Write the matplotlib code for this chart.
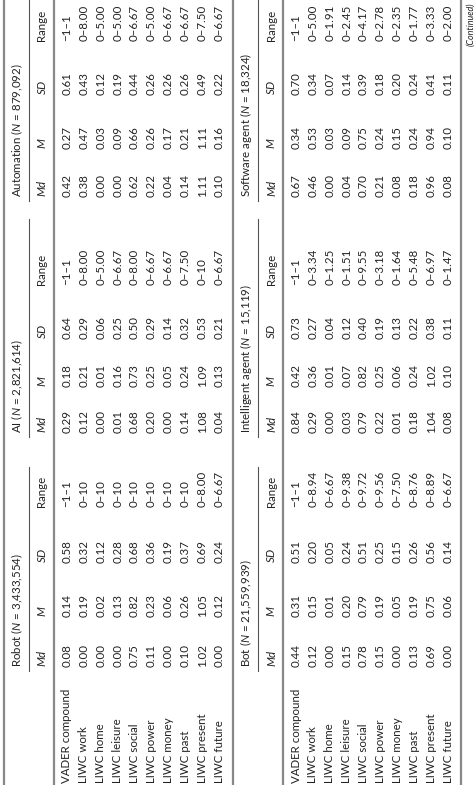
import matplotlib
matplotlib.use("Agg")
import matplotlib.pyplot as plt
from matplotlib.lines import Line2D

plt.rcParams['font.family'] = ['Lato', 'DejaVu Sans']
plt.rcParams['mathtext.fontset'] = 'custom'
plt.rcParams['mathtext.it'] = 'Lato:italic'
plt.rcParams['mathtext.rm'] = 'Lato'

rows = ["VADER compound", "LIWC work", "LIWC home", "LIWC leisure", "LIWC social",
        "LIWC power", "LIWC money", "LIWC past", "LIWC present", "LIWC future"]
sub = ["Md", "M", "SD", "Range"]

block1_groups = ["Robot ($N$ = 3,433,554)", "AI ($N$ = 2,821,614)", "Automation ($N$ = 879,092)"]
robot_md = ["0.08","0.00","0.00","0.00","0.75","0.11","0.00","0.10","1.02","0.00"]
robot_m = ["0.14","0.19","0.02","0.13","0.82","0.23","0.06","0.26","1.05","0.12"]
robot_sd = ["0.58","0.32","0.12","0.28","0.68","0.36","0.19","0.37","0.69","0.24"]
robot_rg = ["−1–1","0–10","0–10","0–10","0–10","0–10","0–10","0–10","0–8.00","0–6.67"]
ai_md = ["0.29","0.12","0.00","0.01","0.68","0.20","0.00","0.14","1.08","0.04"]
ai_m = ["0.18","0.21","0.01","0.16","0.73","0.25","0.05","0.24","1.09","0.13"]
ai_sd = ["0.64","0.29","0.06","0.25","0.50","0.29","0.14","0.32","0.53","0.21"]
ai_rg = ["−1–1","0–8.00","0–5.00","0–6.67","0–8.00","0–6.67","0–6.67","0–7.50","0–10","0–6.67"]
au_md = ["0.42","0.38","0.00","0.00","0.62","0.22","0.04","0.14","1.11","0.10"]
au_m = ["0.27","0.47","0.03","0.09","0.66","0.26","0.17","0.21","1.11","0.16"]
au_sd = ["0.61","0.43","0.12","0.19","0.44","0.26","0.26","0.26","0.49","0.22"]
au_rg = ["−1–1","0–8.00","0–5.00","0–5.00","0–6.67","0–5.00","0–6.67","0–6.67","0–7.50","0–6.67"]

block2_groups = ["Bot ($N$ = 21,559,939)", "Intelligent agent ($N$ = 15,119)", "Software agent ($N$ = 18,324)"]
bot_md = ["0.44","0.12","0.00","0.15","0.78","0.15","0.00","0.13","0.69","0.00"]
bot_m = ["0.31","0.15","0.01","0.20","0.79","0.19","0.05","0.19","0.75","0.06"]
bot_sd = ["0.51","0.20","0.05","0.24","0.51","0.25","0.15","0.26","0.56","0.14"]
bot_rg = ["−1–1","0–8.94","0–6.67","0–9.38","0–9.72","0–9.56","0–7.50","0–8.76","0–8.89","0–6.67"]
ia_md = ["0.84","0.29","0.00","0.03","0.79","0.22","0.01","0.18","1.04","0.08"]
ia_m = ["0.42","0.36","0.01","0.07","0.82","0.25","0.06","0.24","1.02","0.10"]
ia_sd = ["0.73","0.27","0.04","0.12","0.40","0.19","0.13","0.22","0.38","0.11"]
ia_rg = ["−1–1","0–3.34","0–1.25","0–1.51","0–9.55","0–3.18","0–1.64","0–5.48","0–6.97","0–1.47"]
sa_md = ["0.67","0.46","0.00","0.04","0.70","0.21","0.08","0.18","0.96","0.08"]
sa_m = ["0.34","0.53","0.03","0.09","0.75","0.24","0.15","0.24","0.94","0.10"]
sa_sd = ["0.70","0.34","0.07","0.14","0.39","0.18","0.20","0.24","0.41","0.11"]
sa_rg = ["−1–1","0–5.00","0–1.91","0–2.45","0–4.17","0–2.78","0–2.35","0–1.77","0–3.33","0–2.00"]

block1 = [[robot_md, robot_m, robot_sd, robot_rg], [ai_md, ai_m, ai_sd, ai_rg], [au_md, au_m, au_sd, au_rg]]
block2 = [[bot_md, bot_m, bot_sd, bot_rg], [ia_md, ia_m, ia_sd, ia_rg], [sa_md, sa_m, sa_sd, sa_rg]]

W, H = 474, 785
fig = plt.figure(figsize=(W/100, H/100), dpi=100)

col_u = [[118, 168, 222, 278], [352, 398, 446, 500], [588, 636, 690, 744]]
grp_span = [(114, 318), (348, 566), (584, 785)]
FS = 8.3
C = '#222222'

def txt(u, v, s, **kw):
    fig.text(v / W, u / H, s, rotation=90, rotation_mode='anchor', ha='left', va='center',
             fontsize=FS, color=C, **kw)

def hline(v, u0, u1, lw=1.0, col='#888888'):
    fig.add_artist(Line2D([v / W, v / W], [u0 / H, u1 / H], lw=lw, color=col))

def draw_block(v0, groups, data):
    hline(v0, 0, H, lw=1.6)
    for g, name in enumerate(groups):
        txt(col_u[g][0], v0 + 13, name)
        hline(v0 + 25, grp_span[g][0], grp_span[g][1], lw=0.8, col='#555555')
        for k, s in enumerate(sub):
            txt(col_u[g][k], v0 + 38, s if s == "Range" else "$" + s + "$")
    hline(v0 + 50, 0, H, lw=1.6)
    for i, r in enumerate(rows):
        v = v0 + 63 + i * 16.9
        txt(2, v, r)
        for g in range(3):
            for k in range(4):
                txt(col_u[g][k], v, data[g][k][i])

draw_block(4, block1_groups, block1)
draw_block(233, block2_groups, block2)
hline(461, 0, H, lw=1.6)
fig.text(471 / W, 783 / H, "(Continued)", rotation=90, rotation_mode='anchor', ha='right',
         va='center', fontsize=6.5, style='italic', color=C)

fig.savefig("out.png", dpi=100)
